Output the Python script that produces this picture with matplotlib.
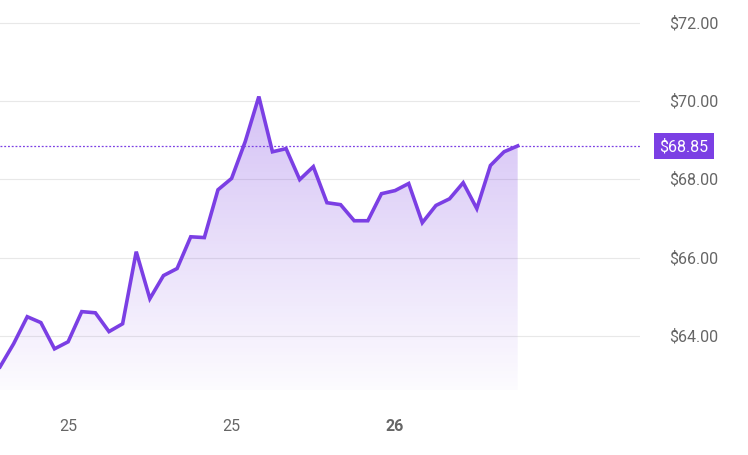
import numpy as np
import matplotlib.pyplot as plt
from matplotlib.patches import Polygon

# price values
prices = [63.21, 63.80, 64.49, 64.34, 63.67, 63.85, 64.62, 64.59, 64.11, 64.31,
          66.15, 64.95, 65.54, 65.72, 66.53, 66.51, 67.73, 68.02, 68.96, 70.11,
          68.70, 68.78, 67.99, 68.32, 67.40, 67.35, 66.94, 66.94, 67.63, 67.71,
          67.89, 66.89, 67.33, 67.50, 67.91, 67.25, 68.35, 68.70, 68.85]
last_price = 68.85
y_ticks = [64, 66, 68, 70, 72]
x_tick_pos = [5, 17, 29]
x_tick_labels = ["25", "25", "26"]

purple = "#7b3fe4"
x = np.arange(len(prices))

fig = plt.figure(figsize=(7.48, 4.56), dpi=100)
ax = fig.add_axes([0, 0.134, 0.856, 0.866])
ax.set_xlim(0, 47)
ax.set_ylim(62.52, 72.6)

# gradient fill under the line
ymin, ymax = ax.get_ylim()
base = ymin + 0.1
grad = np.linspace(0.32, 0.02, 256).reshape(-1, 1)
rgba = np.zeros((256, 1, 4))
rgba[..., 0], rgba[..., 1], rgba[..., 2] = 0.48, 0.25, 0.89
rgba[..., 3] = grad
img = ax.imshow(rgba, extent=[0, x[-1], base, max(prices)], aspect="auto",
                origin="upper", zorder=1)
verts = list(zip(x, prices)) + [(x[-1], base), (0, base)]
poly = Polygon(verts, closed=True, facecolor="none", edgecolor="none")
ax.add_patch(poly)
img.set_clip_path(poly)

ax.plot(x, prices, color=purple, lw=2.6, solid_joinstyle="miter", zorder=3)
ax.axhline(last_price, color=purple, lw=0.9, ls=(0, (1.5, 1.5)), zorder=2)

for t in y_ticks:
    ax.axhline(t, color="#e8e8e8", lw=0.8, zorder=0)
    ax.text(1.045, t, f"${t:.2f}", transform=ax.get_yaxis_transform(),
            ha="left", va="center", fontsize=11.5, color="#666666", family="Roboto")

ax.text(1.03, last_price, f"${last_price:.2f}", transform=ax.get_yaxis_transform(),
        ha="left", va="center", fontsize=11.5, color="white", family="Roboto",
        bbox=dict(boxstyle="square,pad=0.35", fc=purple, ec="none"), clip_on=False)

for p, lab in zip(x_tick_pos, x_tick_labels):
    ax.text(p, -0.08, lab, transform=ax.get_xaxis_transform(), ha="center",
            va="center", fontsize=11.5, color="#666666", family="Roboto",
            weight="bold" if lab == "26" else "normal")

ax.set_xticks([])
ax.set_yticks([])
for s in ax.spines.values():
    s.set_visible(False)

fig.savefig("out.png", dpi=100)
